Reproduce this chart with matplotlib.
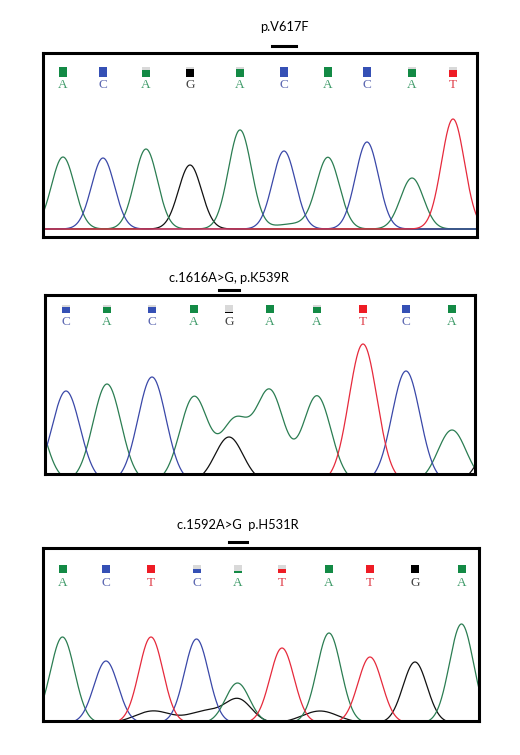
import numpy as np
import matplotlib
matplotlib.use("Agg")
import matplotlib.pyplot as plt
from matplotlib.patches import Rectangle
import matplotlib.transforms as mtransforms

# --- data (scan positions relative to panel left edge) ---
titles = ["p.V617F", "c.1616A>G, p.K539R", "c.1592A>G  p.H531R"]
bases = ["ACAGACACAT", "CACAGAATCA", "ACTCATATGA"]
call_pos = [
    [20, 60, 103, 147, 197, 241, 285, 324, 369, 410],
    [21, 62, 107, 149, 184, 225, 272, 318, 361, 407],
    [19.5, 63, 108, 153.5, 194.5, 239, 286, 327, 372, 418.5],
]
peak_height = [
    [72, 71, 80, 64, 99, 78, 71, 87, 51, 110],
    [91, 98, 105, 85, 45, 90, 86, 138, 111, 52],
    [86, 62, 86, 84, 40, 75, 90, 66, 61, 99],
]
call_quality = [
    [1, 1, .7, .85, .85, 1, 1, 1, .8, .75],
    [.7, .7, .7, 1, .15, 1, .8, 1, 1, 1],
    [1, 1, 1, .5, .25, .55, 1, 1, 1, 1],
]
# secondary / off-frame peaks: (base, position, height, width)
extra_peaks = [
    [("A", 250, 5, 18)],
    [("A", -15, 80, 14), ("A", 190, 60, 14), ("G", 450, 45, 14)],
    [("G", 110, 12, 18), ("G", 164, 12, 18), ("G", 196, 22, 13), ("G", 277, 12, 18)],
]
mutation_idx = [5, 4, 4]
peak_sigma = [11.5, 14, 12]

# --- layout (pixels in the 520x755 image) ---
W, H = 520, 755
boxes = [(43, 53, 477, 237), (45, 295, 475, 474), (43, 548, 479, 721)]
baselines = [229, 482, 723]
square_rows = [(14, 24), (10, 18), (17, 25)]
letter_rows = [32, 27, 35]
title_rows = [26, 17, 23]
bar_rows = [7, 5, 6]
bar_half = [12, 10, 9]

trace_col = {"A": "#2b7d52", "C": "#3a48a8", "G": "#111111", "T": "#e62a3c"}
square_col = {"A": "#138a45", "C": "#3550b5", "G": "#000000", "T": "#ee1c25"}
letter_col = {"A": "#3d9a68", "C": "#5a66b0", "G": "#444444", "T": "#e0404c"}

fig = plt.figure(figsize=(W / 100, H / 100), dpi=100)

for i in range(3):
    x0, y0, x1, y1 = boxes[i]
    bw, bh = x1 - x0, y1 - y0
    ax = fig.add_axes([x0 / W, 1 - y1 / H, bw / W, bh / H])
    ax.set_xlim(0, bw)
    ax.set_ylim(baselines[i] - y1, baselines[i] - y0)

    # build traces as sums of peaks
    x = np.linspace(-30, bw + 30, 2000)
    s = peak_sigma[i]
    traces = {b: np.zeros_like(x) for b in "ACGT"}
    for b, p, h in zip(bases[i], call_pos[i], peak_height[i]):
        traces[b] += h * np.exp(-(x - p) ** 2 / (2 * s ** 2))
    for b, p, h, w in extra_peaks[i]:
        traces[b] += h * np.exp(-(x - p) ** 2 / (2 * w ** 2))
    for b in "GACT":
        ax.plot(x, traces[b], color=trace_col[b], lw=0.9)

    for sp in ax.spines.values():
        sp.set_linewidth(2.2)
        sp.set_color("black")
    ax.set_xticks([])
    ax.set_yticks([])

    blend = mtransforms.blended_transform_factory(ax.transData, ax.transAxes)
    sq_top = 1 - square_rows[i][0] / bh
    sq_bot = 1 - square_rows[i][1] / bh
    for b, p, q in zip(bases[i], call_pos[i], call_quality[i]):
        hgt = sq_top - sq_bot
        ax.add_patch(Rectangle((p - 4, sq_bot), 8, hgt, transform=blend,
                               facecolor="#d9d9d9", edgecolor="none", clip_on=False))
        ax.add_patch(Rectangle((p - 4, sq_bot), 8, hgt * q, transform=blend,
                               facecolor=square_col[b], edgecolor="none", clip_on=False))
        ax.text(p, 1 - letter_rows[i] / bh, b, transform=blend, ha="center", va="center",
                family="Liberation Serif", fontsize=9.5, color=letter_col[b])

    xm = call_pos[i][mutation_idx[i]]
    ax.plot([xm - bar_half[i], xm + bar_half[i]], [1 + bar_rows[i] / bh] * 2,
            transform=blend, color="black", lw=2.2, clip_on=False)
    ax.text(xm, 1 + title_rows[i] / bh, titles[i], transform=blend, ha="center",
            va="center", family="Lato", fontsize=9.3, color="black")

fig.savefig("out.png", dpi=100)
